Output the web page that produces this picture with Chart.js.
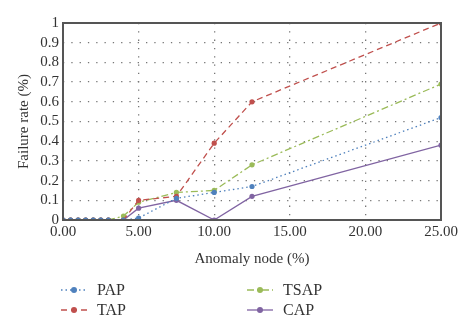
<!DOCTYPE html>
<html>
<head>
<meta charset="utf-8">
<script src="https://cdn.jsdelivr.net/npm/chart.js@4.4.0/dist/chart.umd.min.js"></script>
<style>
  html, body { margin: 0; padding: 0; background: #fff; }
  #wrap { width: 474px; height: 334px; }
</style>
</head>
<body>
<div id="wrap"><canvas id="myChart" width="474" height="334"></canvas></div>
<script>
// anomaly node (%) positions
var anomalyNodes = [0, 0.5, 1, 1.5, 2, 2.5, 3, 4, 5, 7.5, 10, 12.5, 25];
// failure rate (%) for each method
var papValues  = [0, 0, 0, 0, 0, 0, 0, 0, 0.01, 0.11, 0.14, 0.17, 0.52];
var tapValues  = [0, 0, 0, 0, 0, 0, 0, 0, 0.10, 0.12, 0.39, 0.60, 1.00];
var tsapValues = [0, 0, 0, 0, 0, 0, 0, 0.02, 0.09, 0.14, 0.15, 0.28, 0.69];
var capValues  = [0, 0, 0, 0, 0, 0, 0, 0, 0.06, 0.10, 0, 0.12, 0.38];
var xTicks = [0, 5, 10, 15, 20, 25];

var serif = "'Liberation Serif', 'DejaVu Serif', serif";
var textColor = "#333";

function toPoints(values) {
  return values.map(function (v, i) { return { x: anomalyNodes[i], y: v }; });
}

function makeSet(label, values, color, dash) {
  return {
    label: label,
    data: toPoints(values),
    borderColor: color,
    backgroundColor: color,
    borderWidth: 1.3,
    borderDash: dash,
    pointRadius: 2.6,
    pointHoverRadius: 2.6,
    pointBorderWidth: 0,
    tension: 0
  };
}

// draws the frame round the plot and the two-column legend below
var framePlugin = {
  id: "frame",
  afterDraw: function (chart) {
    var c = chart.ctx;
    var a = chart.chartArea;
    c.save();
    c.strokeStyle = "#555";
    c.lineWidth = 2;
    c.setLineDash([]);
    c.strokeRect(a.left, a.top, a.right - a.left, a.bottom - a.top);

    var spots = [[61, 290], [61, 310], [247, 290], [247, 310]];
    chart.data.datasets.forEach(function (ds, i) {
      var x = spots[i][0], y = spots[i][1];
      c.strokeStyle = ds.borderColor;
      c.lineWidth = 1.3;
      c.setLineDash(ds.borderDash);
      c.beginPath();
      c.moveTo(x, y);
      c.lineTo(x + 26, y);
      c.stroke();
      c.setLineDash([]);
      c.fillStyle = ds.borderColor;
      c.beginPath();
      c.arc(x + 13, y, 3, 0, Math.PI * 2);
      c.fill();
      c.fillStyle = textColor;
      c.font = "16px " + serif;
      c.textBaseline = "middle";
      c.fillText(ds.label, x + 36, y + 1);
    });
    c.restore();
  }
};

var ctx = document.getElementById("myChart").getContext("2d");
var chart = new Chart(ctx, {
  type: "line",
  data: {
    datasets: [
      makeSet("PAP", papValues, "#4f81bd", [1.5, 3]),
      makeSet("TAP", tapValues, "#c0504d", [6, 4]),
      makeSet("TSAP", tsapValues, "#9bbb59", [7, 3, 2, 3]),
      makeSet("CAP", capValues, "#8064a2", [])
    ]
  },
  options: {
    responsive: false,
    animation: false,
    layout: { padding: { top: 23, right: 33, bottom: 66, left: 15 } },
    plugins: {
      legend: { display: false },
      tooltip: { enabled: false }
    },
    scales: {
      x: {
        type: "linear",
        min: 0,
        max: 25,
        afterBuildTicks: function (scale) {
          scale.ticks = xTicks.map(function (v) { return { value: v }; });
        },
        afterFit: function (scale) { scale.height = 48; },
        ticks: {
          color: textColor,
          font: { family: serif, size: 15 },
          padding: 3,
          maxRotation: 0,
          callback: function (v) { return v.toFixed(2); }
        },
        grid: {
          color: "#777",
          lineWidth: 1.3,
          drawTicks: false
        },
        border: { display: false, dash: [1.3, 7] },
        title: {
          display: true,
          text: "Anomaly node (%)",
          color: textColor,
          font: { family: serif, size: 15 },
          padding: { top: 2, bottom: 0 }
        }
      },
      y: {
        min: 0,
        max: 1,
        afterFit: function (scale) { scale.width = 48; },
        ticks: {
          stepSize: 0.1,
          autoSkip: false,
          color: textColor,
          font: { family: serif, size: 15 },
          padding: 4,
          callback: function (v) { return Math.round(v * 10) / 10 + ""; }
        },
        grid: {
          color: "#777",
          lineWidth: 1.3,
          drawTicks: false
        },
        border: { display: false, dash: [1.3, 7] },
        title: {
          display: true,
          text: "Failure rate (%)",
          color: textColor,
          font: { family: serif, size: 15 },
          padding: { top: 0, bottom: 0 }
        }
      }
    }
  },
  plugins: [framePlugin]
});
</script>
</body>
</html>
